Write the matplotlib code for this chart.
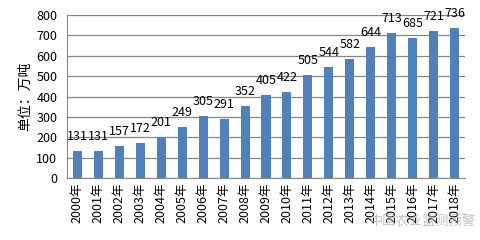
import matplotlib
matplotlib.use('Agg')
import matplotlib.pyplot as plt

plt.rcParams['font.family'] = ['Noto Sans CJK SC', 'DejaVu Sans']

years = [str(y) + '年' for y in range(2000, 2019)]
values = [131, 131, 157, 172, 201, 249, 305, 291, 352, 405, 422, 505, 544, 582, 644, 713, 685, 721, 736]

fig = plt.figure(figsize=(4.8, 2.4), dpi=100)
ax = fig.add_axes([67/480, 1 - 178/240, (465-67)/480, (178-15)/240])

x = range(len(values))
ax.bar(x, values, width=0.43, color='#4f81bd', zorder=3)
for i, v in enumerate(values):
    ax.annotate(str(v), (i, v), xytext=(0, 8), textcoords='offset points',
                ha='center', va='baseline', fontsize=9, color='#000000')

ax.set_xlim(-0.5, len(values) - 0.5)
ax.set_ylim(0, 800)
ax.set_yticks(range(0, 801, 100))
ax.set_xticks(list(x))
ax.set_xticklabels(years, rotation=90, fontsize=9)
ax.tick_params(axis='y', labelsize=9, length=0, pad=7)
ax.tick_params(axis='x', length=0, pad=3)
ax.grid(axis='y', color='#868686', linewidth=0.9, zorder=0)
for s in ['top', 'right']:
    ax.spines[s].set_visible(False)
ax.spines['left'].set_color('#868686')
ax.spines['bottom'].set_color('#868686')
ax.set_ylabel('单位：万吨', fontsize=10, labelpad=3)

# watermark from the source image
fig.text(0.88, 0.08, '中国农业监测预警', ha='center', va='center', fontsize=9.5, color='#aaaaaa', alpha=0.7)

plt.savefig('out.png', dpi=100)
